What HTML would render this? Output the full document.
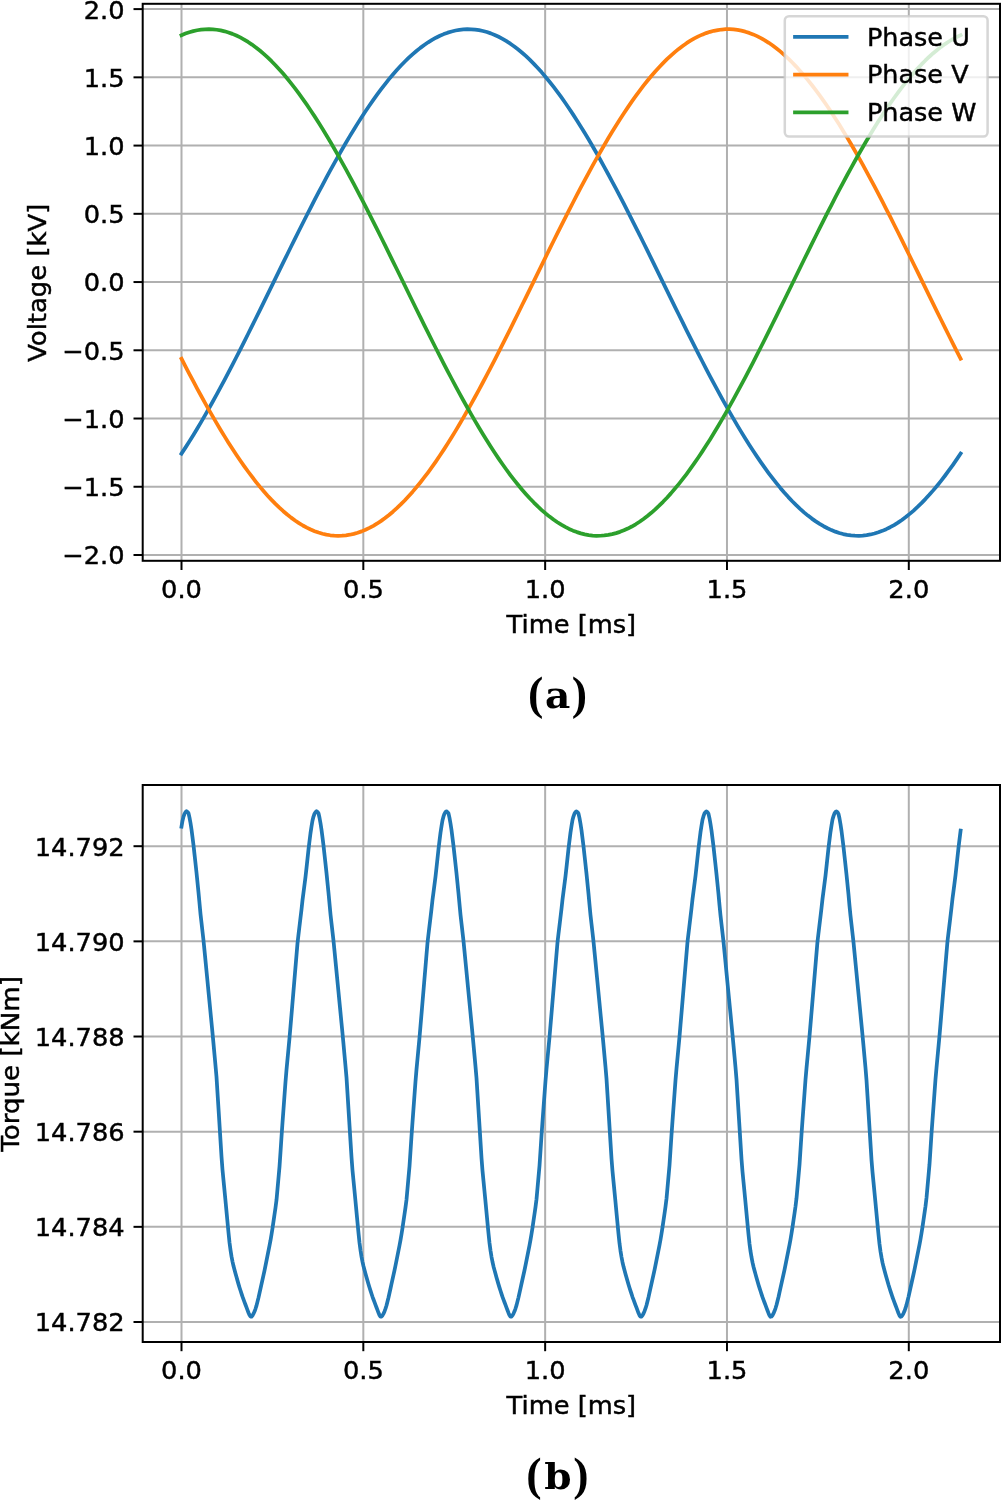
<!DOCTYPE html>
<html><head><meta charset="utf-8"><title>Phase voltages and torque</title>
<style>html,body{margin:0;padding:0;background:#fff}svg{display:block}text{font-family:"DejaVu Sans", "Liberation Sans", sans-serif;font-size:24.8px;fill:#000;stroke:#000;stroke-width:0.45px}.cap{font-weight:bold;stroke:none}.par{font-family:"Liberation Serif", "DejaVu Serif", serif;font-size:46px}.let{font-family:"DejaVu Serif","Liberation Serif",serif;font-size:35.6px}</style>
</head><body>
<svg width="1001" height="1500" viewBox="0 0 1001 1500">
<rect width="1001" height="1500" fill="#fff"/>
<defs><clipPath id="ca"><rect x="142.7" y="3.8" width="857.3" height="557.0"/></clipPath><clipPath id="cb"><rect x="142.7" y="785.0" width="857.3" height="557.0"/></clipPath></defs>
<line x1="181.5" y1="3.8" x2="181.5" y2="560.8" stroke="#b0b0b0" stroke-width="2.0"/>
<line x1="363.32" y1="3.8" x2="363.32" y2="560.8" stroke="#b0b0b0" stroke-width="2.0"/>
<line x1="545.15" y1="3.8" x2="545.15" y2="560.8" stroke="#b0b0b0" stroke-width="2.0"/>
<line x1="726.97" y1="3.8" x2="726.97" y2="560.8" stroke="#b0b0b0" stroke-width="2.0"/>
<line x1="908.8" y1="3.8" x2="908.8" y2="560.8" stroke="#b0b0b0" stroke-width="2.0"/>
<line x1="142.7" y1="9.1" x2="1000.0" y2="9.1" stroke="#b0b0b0" stroke-width="2.0"/>
<line x1="142.7" y1="77.34" x2="1000.0" y2="77.34" stroke="#b0b0b0" stroke-width="2.0"/>
<line x1="142.7" y1="145.58" x2="1000.0" y2="145.58" stroke="#b0b0b0" stroke-width="2.0"/>
<line x1="142.7" y1="213.81" x2="1000.0" y2="213.81" stroke="#b0b0b0" stroke-width="2.0"/>
<line x1="142.7" y1="282.05" x2="1000.0" y2="282.05" stroke="#b0b0b0" stroke-width="2.0"/>
<line x1="142.7" y1="350.29" x2="1000.0" y2="350.29" stroke="#b0b0b0" stroke-width="2.0"/>
<line x1="142.7" y1="418.52" x2="1000.0" y2="418.52" stroke="#b0b0b0" stroke-width="2.0"/>
<line x1="142.7" y1="486.76" x2="1000.0" y2="486.76" stroke="#b0b0b0" stroke-width="2.0"/>
<line x1="142.7" y1="555" x2="1000.0" y2="555" stroke="#b0b0b0" stroke-width="2.0"/>
<g clip-path="url(#ca)">
<path d="M181.5 453.59 L185.42 447.61 L189.33 441.47 L193.25 435.16 L197.16 428.7 L201.08 422.1 L204.99 415.36 L208.91 408.48 L212.82 401.49 L216.74 394.37 L220.65 387.14 L224.57 379.8 L228.48 372.37 L232.4 364.85 L236.31 357.25 L240.23 349.57 L244.14 341.83 L248.06 334.02 L251.97 326.17 L255.89 318.27 L259.8 310.34 L263.72 302.37 L267.63 294.39 L271.55 286.4 L275.46 278.4 L279.38 270.41 L283.29 262.43 L287.21 254.47 L291.12 246.53 L295.04 238.64 L298.96 230.78 L302.87 222.98 L306.79 215.24 L310.7 207.56 L314.62 199.96 L318.53 192.44 L322.45 185.01 L326.36 177.68 L330.28 170.45 L334.19 163.34 L338.11 156.34 L342.02 149.47 L345.94 142.73 L349.85 136.13 L353.77 129.68 L357.68 123.38 L361.6 117.24 L365.51 111.26 L369.43 105.45 L373.34 99.82 L377.26 94.38 L381.17 89.11 L385.09 84.05 L389 79.18 L392.92 74.51 L396.83 70.05 L400.75 65.8 L404.67 61.77 L408.58 57.96 L412.5 54.37 L416.41 51.01 L420.33 47.88 L424.24 44.98 L428.16 42.32 L432.07 39.9 L435.99 37.72 L439.9 35.79 L443.82 34.1 L447.73 32.66 L451.65 31.47 L455.56 30.52 L459.48 29.83 L463.39 29.4 L467.31 29.21 L471.22 29.28 L475.14 29.59 L479.05 30.17 L482.97 30.99 L486.88 32.06 L490.8 33.38 L494.71 34.95 L498.63 36.77 L502.54 38.83 L506.46 41.14 L510.37 43.69 L514.29 46.47 L518.21 49.49 L522.12 52.74 L526.04 56.22 L529.95 59.93 L533.87 63.86 L537.78 68 L541.7 72.36 L545.61 76.93 L549.53 81.71 L553.44 86.68 L557.36 91.85 L561.27 97.21 L565.19 102.76 L569.1 108.48 L573.02 114.38 L576.93 120.44 L580.85 126.67 L584.76 133.05 L588.68 139.58 L592.59 146.25 L596.51 153.06 L600.42 160 L604.34 167.06 L608.25 174.23 L612.17 181.52 L616.08 188.9 L620 196.38 L623.91 203.94 L627.83 211.58 L631.75 219.29 L635.66 227.07 L639.58 234.9 L643.49 242.78 L647.41 250.69 L651.32 258.64 L655.24 266.61 L659.15 274.6 L663.07 282.6 L666.98 290.6 L670.9 298.58 L674.81 306.56 L678.73 314.5 L682.64 322.42 L686.56 330.3 L690.47 338.13 L694.39 345.9 L698.3 353.61 L702.22 361.25 L706.13 368.81 L710.05 376.28 L713.96 383.66 L717.88 390.94 L721.79 398.12 L725.71 405.17 L729.62 412.11 L733.54 418.91 L737.46 425.58 L741.37 432.11 L745.29 438.49 L749.2 444.71 L753.12 450.77 L757.03 456.66 L760.95 462.38 L764.86 467.92 L768.78 473.28 L772.69 478.44 L776.61 483.41 L780.52 488.18 L784.44 492.75 L788.35 497.1 L792.27 501.24 L796.18 505.17 L800.1 508.87 L804.01 512.34 L807.93 515.59 L811.84 518.6 L815.76 521.38 L819.67 523.92 L823.59 526.22 L827.5 528.28 L831.42 530.09 L835.33 531.65 L839.25 532.97 L843.16 534.04 L847.08 534.85 L851 535.42 L854.91 535.73 L858.83 535.79 L862.74 535.6 L866.66 535.15 L870.57 534.45 L874.49 533.51 L878.4 532.31 L882.32 530.86 L886.23 529.17 L890.15 527.23 L894.06 525.04 L897.98 522.62 L901.89 519.95 L905.81 517.05 L909.72 513.91 L913.64 510.55 L917.55 506.95 L921.47 503.13 L925.38 499.1 L929.3 494.84 L933.21 490.38 L937.13 485.7 L941.04 480.83 L944.96 475.76 L948.87 470.49 L952.79 465.04 L956.7 459.4 L960.62 453.59" fill="none" stroke="#1f77b4" stroke-width="3.75" stroke-linecap="square" stroke-linejoin="round"/>
<path d="M181.5 358.71 L185.42 366.3 L189.33 373.8 L193.25 381.22 L197.16 388.53 L201.08 395.74 L204.99 402.84 L208.91 409.81 L212.82 416.66 L216.74 423.38 L220.65 429.95 L224.57 436.38 L228.48 442.65 L232.4 448.77 L236.31 454.72 L240.23 460.5 L244.14 466.1 L248.06 471.51 L251.97 476.74 L255.89 481.78 L259.8 486.62 L263.72 491.25 L267.63 495.67 L271.55 499.89 L275.46 503.88 L279.38 507.66 L283.29 511.21 L287.21 514.53 L291.12 517.62 L295.04 520.48 L298.96 523.1 L302.87 525.48 L306.79 527.62 L310.7 529.51 L314.62 531.16 L318.53 532.56 L322.45 533.71 L326.36 534.61 L330.28 535.26 L334.19 535.65 L338.11 535.8 L342.02 535.69 L345.94 535.33 L349.85 534.72 L353.77 533.85 L357.68 532.74 L361.6 531.37 L365.51 529.76 L369.43 527.9 L373.34 525.8 L377.26 523.45 L381.17 520.87 L385.09 518.04 L389 514.98 L392.92 511.69 L396.83 508.17 L400.75 504.43 L404.67 500.47 L408.58 496.28 L412.5 491.89 L416.41 487.29 L420.33 482.48 L424.24 477.47 L428.16 472.27 L432.07 466.88 L435.99 461.3 L439.9 455.55 L443.82 449.62 L447.73 443.53 L451.65 437.28 L455.56 430.87 L459.48 424.32 L463.39 417.62 L467.31 410.79 L471.22 403.83 L475.14 396.75 L479.05 389.56 L482.97 382.26 L486.88 374.86 L490.8 367.37 L494.71 359.79 L498.63 352.14 L502.54 344.41 L506.46 336.63 L510.37 328.79 L514.29 320.91 L518.21 312.98 L522.12 305.03 L526.04 297.05 L529.95 289.06 L533.87 281.07 L537.78 273.07 L541.7 265.09 L545.61 257.12 L549.53 249.17 L553.44 241.26 L557.36 233.4 L561.27 225.58 L565.19 217.81 L569.1 210.11 L573.02 202.49 L576.93 194.94 L580.85 187.48 L584.76 180.11 L588.68 172.85 L592.59 165.7 L596.51 158.66 L600.42 151.75 L604.34 144.96 L608.25 138.32 L612.17 131.82 L616.08 125.46 L620 119.27 L623.91 113.23 L627.83 107.37 L631.75 101.68 L635.66 96.17 L639.58 90.85 L643.49 85.71 L647.41 80.78 L651.32 76.04 L655.24 71.51 L659.15 67.19 L663.07 63.09 L666.98 59.2 L670.9 55.54 L674.81 52.1 L678.73 48.89 L682.64 45.92 L686.56 43.18 L690.47 40.68 L694.39 38.42 L698.3 36.4 L702.22 34.63 L706.13 33.11 L710.05 31.84 L713.96 30.81 L717.88 30.04 L721.79 29.51 L725.71 29.24 L729.62 29.23 L733.54 29.46 L737.46 29.95 L741.37 30.69 L745.29 31.68 L749.2 32.91 L753.12 34.4 L757.03 36.14 L760.95 38.12 L764.86 40.34 L768.78 42.81 L772.69 45.52 L776.61 48.46 L780.52 51.63 L784.44 55.04 L788.35 58.67 L792.27 62.52 L796.18 66.6 L800.1 70.89 L804.01 75.39 L807.93 80.09 L811.84 85 L815.76 90.11 L819.67 95.4 L823.59 100.89 L827.5 106.55 L831.42 112.39 L835.33 118.4 L839.25 124.57 L843.16 130.91 L847.08 137.39 L851 144.01 L854.91 150.78 L858.83 157.67 L862.74 164.69 L866.66 171.83 L870.57 179.08 L874.49 186.43 L878.4 193.88 L882.32 201.41 L886.23 209.03 L890.15 216.72 L894.06 224.47 L897.98 232.28 L901.89 240.15 L905.81 248.05 L909.72 255.99 L913.64 263.96 L917.55 271.94 L921.47 279.93 L925.38 287.93 L929.3 295.92 L933.21 303.9 L937.13 311.86 L941.04 319.79 L944.96 327.68 L948.87 335.52 L952.79 343.31 L956.7 351.05 L960.62 358.71" fill="none" stroke="#ff7f0e" stroke-width="3.75" stroke-linecap="square" stroke-linejoin="round"/>
<path d="M181.5 35.2 L185.42 33.59 L189.33 32.23 L193.25 31.12 L197.16 30.27 L201.08 29.66 L204.99 29.31 L208.91 29.2 L212.82 29.35 L216.74 29.76 L220.65 30.41 L224.57 31.32 L228.48 32.47 L232.4 33.88 L236.31 35.53 L240.23 37.43 L244.14 39.58 L248.06 41.96 L251.97 44.59 L255.89 47.45 L259.8 50.55 L263.72 53.88 L267.63 57.43 L271.55 61.21 L275.46 65.22 L279.38 69.43 L283.29 73.86 L287.21 78.5 L291.12 83.34 L295.04 88.38 L298.96 93.62 L302.87 99.04 L306.79 104.64 L310.7 110.43 L314.62 116.38 L318.53 122.5 L322.45 128.78 L326.36 135.21 L330.28 141.79 L334.19 148.51 L338.11 155.36 L342.02 162.34 L345.94 169.44 L349.85 176.65 L353.77 183.97 L357.68 191.38 L361.6 198.89 L365.51 206.48 L369.43 214.15 L373.34 221.88 L377.26 229.67 L381.17 237.52 L385.09 245.41 L389 253.34 L392.92 261.3 L396.83 269.28 L400.75 277.27 L404.67 285.27 L408.58 293.26 L412.5 301.24 L416.41 309.21 L420.33 317.15 L424.24 325.05 L428.16 332.91 L432.07 340.72 L435.99 348.48 L439.9 356.16 L443.82 363.78 L447.73 371.31 L451.65 378.75 L455.56 386.1 L459.48 393.35 L463.39 400.48 L467.31 407.5 L471.22 414.39 L475.14 421.15 L479.05 427.78 L482.97 434.25 L486.88 440.58 L490.8 446.75 L494.71 452.76 L498.63 458.59 L502.54 464.25 L506.46 469.73 L510.37 475.02 L514.29 480.12 L518.21 485.03 L522.12 489.73 L526.04 494.22 L529.95 498.51 L533.87 502.57 L537.78 506.42 L541.7 510.05 L545.61 513.45 L549.53 516.62 L553.44 519.55 L557.36 522.25 L561.27 524.71 L565.19 526.93 L569.1 528.91 L573.02 530.64 L576.93 532.12 L580.85 533.35 L584.76 534.34 L588.68 535.07 L592.59 535.55 L596.51 535.78 L600.42 535.75 L604.34 535.48 L608.25 534.95 L612.17 534.17 L616.08 533.14 L620 531.85 L623.91 530.32 L627.83 528.55 L631.75 526.53 L635.66 524.26 L639.58 521.75 L643.49 519.01 L647.41 516.03 L651.32 512.82 L655.24 509.37 L659.15 505.7 L663.07 501.81 L666.98 497.7 L670.9 493.38 L674.81 488.84 L678.73 484.1 L682.64 479.16 L686.56 474.02 L690.47 468.69 L694.39 463.18 L698.3 457.49 L702.22 451.62 L706.13 445.58 L710.05 439.38 L713.96 433.02 L717.88 426.52 L721.79 419.87 L725.71 413.08 L729.62 406.17 L733.54 399.13 L737.46 391.97 L741.37 384.7 L745.29 377.34 L749.2 369.87 L753.12 362.33 L757.03 354.7 L760.95 347 L764.86 339.23 L768.78 331.41 L772.69 323.54 L776.61 315.63 L780.52 307.68 L784.44 299.72 L788.35 291.73 L792.27 283.73 L796.18 275.74 L800.1 267.75 L804.01 259.77 L807.93 251.82 L811.84 243.9 L815.76 236.01 L819.67 228.18 L823.59 220.39 L827.5 212.67 L831.42 205.02 L835.33 197.45 L839.25 189.96 L843.16 182.56 L847.08 175.26 L851 168.07 L854.91 160.99 L858.83 154.04 L862.74 147.21 L866.66 140.52 L870.57 133.97 L874.49 127.56 L878.4 121.31 L882.32 115.23 L886.23 109.31 L890.15 103.56 L894.06 97.99 L897.98 92.6 L901.89 87.4 L905.81 82.4 L909.72 77.6 L913.64 73 L917.55 68.61 L921.47 64.43 L925.38 60.47 L929.3 56.73 L933.21 53.22 L937.13 49.94 L941.04 46.88 L944.96 44.07 L948.87 41.49 L952.79 39.15 L956.7 37.05 L960.62 35.2" fill="none" stroke="#2ca02c" stroke-width="3.75" stroke-linecap="square" stroke-linejoin="round"/>
</g>
<line x1="181.5" y1="560.8" x2="181.5" y2="570.0" stroke="#000" stroke-width="2.0"/>
<line x1="363.32" y1="560.8" x2="363.32" y2="570.0" stroke="#000" stroke-width="2.0"/>
<line x1="545.15" y1="560.8" x2="545.15" y2="570.0" stroke="#000" stroke-width="2.0"/>
<line x1="726.97" y1="560.8" x2="726.97" y2="570.0" stroke="#000" stroke-width="2.0"/>
<line x1="908.8" y1="560.8" x2="908.8" y2="570.0" stroke="#000" stroke-width="2.0"/>
<line x1="133.5" y1="9.1" x2="142.7" y2="9.1" stroke="#000" stroke-width="2.0"/>
<line x1="133.5" y1="77.34" x2="142.7" y2="77.34" stroke="#000" stroke-width="2.0"/>
<line x1="133.5" y1="145.58" x2="142.7" y2="145.58" stroke="#000" stroke-width="2.0"/>
<line x1="133.5" y1="213.81" x2="142.7" y2="213.81" stroke="#000" stroke-width="2.0"/>
<line x1="133.5" y1="282.05" x2="142.7" y2="282.05" stroke="#000" stroke-width="2.0"/>
<line x1="133.5" y1="350.29" x2="142.7" y2="350.29" stroke="#000" stroke-width="2.0"/>
<line x1="133.5" y1="418.52" x2="142.7" y2="418.52" stroke="#000" stroke-width="2.0"/>
<line x1="133.5" y1="486.76" x2="142.7" y2="486.76" stroke="#000" stroke-width="2.0"/>
<line x1="133.5" y1="555" x2="142.7" y2="555" stroke="#000" stroke-width="2.0"/>
<rect x="142.7" y="3.8" width="857.3" height="557.0" fill="none" stroke="#000" stroke-width="2.0"/>
<text transform="translate(181.5,598.1) scale(1.036,1)" text-anchor="middle">0.0</text>
<text transform="translate(363.32,598.1) scale(1.036,1)" text-anchor="middle">0.5</text>
<text transform="translate(545.15,598.1) scale(1.036,1)" text-anchor="middle">1.0</text>
<text transform="translate(726.97,598.1) scale(1.036,1)" text-anchor="middle">1.5</text>
<text transform="translate(908.8,598.1) scale(1.036,1)" text-anchor="middle">2.0</text>
<text transform="translate(124.6,18.5) scale(1.036,1)" text-anchor="end">2.0</text>
<text transform="translate(124.6,86.74) scale(1.036,1)" text-anchor="end">1.5</text>
<text transform="translate(124.6,154.98) scale(1.036,1)" text-anchor="end">1.0</text>
<text transform="translate(124.6,223.21) scale(1.036,1)" text-anchor="end">0.5</text>
<text transform="translate(124.6,291.45) scale(1.036,1)" text-anchor="end">0.0</text>
<text transform="translate(124.6,359.69) scale(1.036,1)" text-anchor="end">−0.5</text>
<text transform="translate(124.6,427.92) scale(1.036,1)" text-anchor="end">−1.0</text>
<text transform="translate(124.6,496.16) scale(1.036,1)" text-anchor="end">−1.5</text>
<text transform="translate(124.6,564.4) scale(1.036,1)" text-anchor="end">−2.0</text>
<rect x="784.8" y="16.2" width="202.8" height="120.3" rx="4.2" ry="4.2" fill="#fff" fill-opacity="0.8" stroke="#ccc" stroke-opacity="0.8" stroke-width="2.5"/>
<line x1="795" y1="36.9" x2="846.6" y2="36.9" stroke="#1f77b4" stroke-width="3.75" stroke-linecap="square"/>
<text transform="translate(867,45.6) scale(1.0277,1)" text-anchor="start">Phase U</text>
<line x1="795" y1="74.6" x2="846.6" y2="74.6" stroke="#ff7f0e" stroke-width="3.75" stroke-linecap="square"/>
<text transform="translate(867,83.3) scale(1.0277,1)" text-anchor="start">Phase V</text>
<line x1="795" y1="112.3" x2="846.6" y2="112.3" stroke="#2ca02c" stroke-width="3.75" stroke-linecap="square"/>
<text transform="translate(867,121) scale(1.0277,1)" text-anchor="start">Phase W</text>
<text transform="translate(571.35,632.7) scale(1.036,1)" text-anchor="middle">Time [ms]</text>
<text transform="translate(46.3,282.8) rotate(-90) scale(1.0433,1)" text-anchor="middle">Voltage [kV]</text>
<text class="cap" y="708"><tspan class="par" x="528.1" dy="1">(</tspan><tspan class="let" x="544.9" dy="-1" textLength="25.37" lengthAdjust="spacingAndGlyphs">a</tspan><tspan class="par" x="571.8" dy="1">)</tspan></text>
<line x1="181.5" y1="785.0" x2="181.5" y2="1342.0" stroke="#b0b0b0" stroke-width="2.0"/>
<line x1="363.32" y1="785.0" x2="363.32" y2="1342.0" stroke="#b0b0b0" stroke-width="2.0"/>
<line x1="545.15" y1="785.0" x2="545.15" y2="1342.0" stroke="#b0b0b0" stroke-width="2.0"/>
<line x1="726.97" y1="785.0" x2="726.97" y2="1342.0" stroke="#b0b0b0" stroke-width="2.0"/>
<line x1="908.8" y1="785.0" x2="908.8" y2="1342.0" stroke="#b0b0b0" stroke-width="2.0"/>
<line x1="142.7" y1="846.2" x2="1000.0" y2="846.2" stroke="#b0b0b0" stroke-width="2.0"/>
<line x1="142.7" y1="941.36" x2="1000.0" y2="941.36" stroke="#b0b0b0" stroke-width="2.0"/>
<line x1="142.7" y1="1036.52" x2="1000.0" y2="1036.52" stroke="#b0b0b0" stroke-width="2.0"/>
<line x1="142.7" y1="1131.68" x2="1000.0" y2="1131.68" stroke="#b0b0b0" stroke-width="2.0"/>
<line x1="142.7" y1="1226.84" x2="1000.0" y2="1226.84" stroke="#b0b0b0" stroke-width="2.0"/>
<line x1="142.7" y1="1322" x2="1000.0" y2="1322" stroke="#b0b0b0" stroke-width="2.0"/>
<g clip-path="url(#cb)">
<path d="M181.5 826.68 L182.5 820.68 L183.5 816.66 L184.5 813.86 L185.5 812.16 L186.5 811.25 L187.5 812.05 L188.5 813.07 L189.5 817.57 L190.5 822.99 L191.5 829.49 L192.5 837.28 L193.5 845.28 L194.5 854.26 L195.5 863.41 L196.5 872.6 L197.5 882.56 L198.5 892.53 L199.5 903.18 L200.5 914.04 L201.5 922.82 L202.5 931.59 L203.5 940.37 L204.5 950.47 L205.5 960.79 L206.5 971.1 L207.5 981.42 L208.5 991.73 L209.5 1002.05 L210.5 1012.37 L211.5 1022.68 L212.5 1032.99 L213.5 1043.72 L214.5 1054.67 L215.5 1065.61 L216.5 1076.86 L217.5 1092.8 L218.5 1108.74 L219.5 1124.69 L220.5 1140.63 L221.5 1156.59 L222.5 1169.93 L223.5 1180.22 L224.5 1190.51 L225.5 1200.92 L226.5 1211.53 L227.5 1222.15 L228.5 1232.6 L229.5 1242.45 L230.5 1249.95 L231.5 1256.39 L232.5 1261.59 L233.5 1266.11 L234.5 1269.82 L235.5 1273.54 L236.5 1277.11 L237.5 1280.61 L238.5 1284.11 L239.5 1287.42 L240.5 1290.5 L241.5 1293.59 L242.5 1296.67 L243.5 1299.39 L244.5 1302.06 L245.5 1304.73 L246.5 1307.39 L247.5 1310.06 L248.5 1312.73 L249.5 1315.05 L250.5 1316.57 L251.5 1316.62 L252.5 1315.51 L253.5 1313.71 L254.5 1311.57 L255.5 1308.77 L256.5 1305.66 L257.5 1301.66 L258.5 1297.66 L259.5 1293.2 L260.5 1288.66 L261.5 1284.13 L262.5 1279.63 L263.5 1275.13 L264.5 1270.63 L265.5 1265.7 L266.5 1260.7 L267.5 1255.7 L268.5 1250.7 L269.5 1245.7 L270.5 1240.44 L271.5 1234.44 L272.5 1228.22 L273.5 1221.36 L274.5 1214.51 L275.5 1207.66 L276.5 1200.12 L277.5 1189 L278.5 1177.88 L279.5 1166.76 L280.5 1152.07 L281.5 1136.79 L282.5 1122.63 L283.5 1109.05 L284.5 1095.46 L285.5 1081.88 L286.5 1069.94 L287.5 1059.29 L288.5 1048.64 L289.5 1037.99 L290.5 1026.36 L291.5 1014.54 L292.5 1002.66 L293.5 990.78 L294.5 978.9 L295.5 967.02 L296.5 955.14 L297.5 943.26 L298.5 934.45 L299.5 926.13 L300.5 917.82 L301.5 909.45 L302.5 900.27 L303.5 892.47 L304.5 884.73 L305.5 876.98 L306.5 867.97 L307.5 858.75 L308.5 849.53 L309.5 841.12 L310.5 833.12 L311.5 826.44 L312.5 820.44 L313.5 816.55 L314.5 813.75 L315.5 812.12 L316.5 811.28 L317.5 812.08 L318.5 813.25 L319.5 817.75 L320.5 823.25 L321.5 829.75 L322.5 837.6 L323.5 845.6 L324.5 854.63 L325.5 863.77 L326.5 873 L327.5 882.96 L328.5 892.92 L329.5 903.69 L330.5 914.39 L331.5 923.17 L332.5 931.94 L333.5 940.72 L334.5 950.88 L335.5 961.2 L336.5 971.52 L337.5 981.83 L338.5 992.15 L339.5 1002.46 L340.5 1012.78 L341.5 1023.09 L342.5 1033.41 L343.5 1044.16 L344.5 1055.11 L345.5 1066.05 L346.5 1077.49 L347.5 1093.44 L348.5 1109.38 L349.5 1125.32 L350.5 1141.27 L351.5 1157.22 L352.5 1170.35 L353.5 1180.64 L354.5 1190.93 L355.5 1201.35 L356.5 1211.96 L357.5 1222.57 L358.5 1233 L359.5 1242.75 L360.5 1250.25 L361.5 1256.6 L362.5 1261.8 L363.5 1266.26 L364.5 1269.97 L365.5 1273.69 L366.5 1277.25 L367.5 1280.75 L368.5 1284.25 L369.5 1287.54 L370.5 1290.62 L371.5 1293.71 L372.5 1296.79 L373.5 1299.5 L374.5 1302.17 L375.5 1304.83 L376.5 1307.5 L377.5 1310.17 L378.5 1312.83 L379.5 1315.15 L380.5 1316.62 L381.5 1316.59 L382.5 1315.44 L383.5 1313.64 L384.5 1311.46 L385.5 1308.66 L386.5 1305.5 L387.5 1301.5 L388.5 1297.5 L389.5 1293.02 L390.5 1288.48 L391.5 1283.95 L392.5 1279.45 L393.5 1274.95 L394.5 1270.45 L395.5 1265.5 L396.5 1260.5 L397.5 1255.5 L398.5 1250.5 L399.5 1245.5 L400.5 1240.2 L401.5 1234.2 L402.5 1227.94 L403.5 1221.09 L404.5 1214.24 L405.5 1207.38 L406.5 1199.68 L407.5 1188.55 L408.5 1177.43 L409.5 1166.31 L410.5 1151.45 L411.5 1136.18 L412.5 1122.09 L413.5 1108.5 L414.5 1094.92 L415.5 1081.33 L416.5 1069.51 L417.5 1058.86 L418.5 1048.21 L419.5 1037.56 L420.5 1025.89 L421.5 1014.06 L422.5 1002.18 L423.5 990.3 L424.5 978.42 L425.5 966.55 L426.5 954.67 L427.5 942.79 L428.5 934.12 L429.5 925.8 L430.5 917.48 L431.5 909.08 L432.5 899.9 L433.5 892.16 L434.5 884.42 L435.5 876.67 L436.5 867.6 L437.5 858.38 L438.5 849.17 L439.5 840.8 L440.5 832.8 L441.5 826.2 L442.5 820.2 L443.5 816.44 L444.5 813.64 L445.5 812.08 L446.5 811.31 L447.5 812.11 L448.5 813.43 L449.5 817.93 L450.5 823.51 L451.5 830.01 L452.5 837.92 L453.5 845.92 L454.5 854.99 L455.5 864.14 L456.5 873.39 L457.5 883.36 L458.5 893.32 L459.5 904.19 L460.5 914.74 L461.5 923.52 L462.5 932.3 L463.5 941.07 L464.5 951.3 L465.5 961.61 L466.5 971.93 L467.5 982.24 L468.5 992.56 L469.5 1002.88 L470.5 1013.19 L471.5 1023.51 L472.5 1033.82 L473.5 1044.6 L474.5 1055.54 L475.5 1066.49 L476.5 1078.13 L477.5 1094.07 L478.5 1110.02 L479.5 1125.96 L480.5 1141.91 L481.5 1157.86 L482.5 1170.76 L483.5 1181.05 L484.5 1191.34 L485.5 1201.77 L486.5 1212.38 L487.5 1223 L488.5 1233.4 L489.5 1243.05 L490.5 1250.55 L491.5 1256.81 L492.5 1262.01 L493.5 1266.41 L494.5 1270.12 L495.5 1273.83 L496.5 1277.39 L497.5 1280.89 L498.5 1284.39 L499.5 1287.66 L500.5 1290.75 L501.5 1293.83 L502.5 1296.91 L503.5 1299.61 L504.5 1302.27 L505.5 1304.94 L506.5 1307.61 L507.5 1310.27 L508.5 1312.94 L509.5 1315.24 L510.5 1316.67 L511.5 1316.57 L512.5 1315.37 L513.5 1313.56 L514.5 1311.35 L515.5 1308.55 L516.5 1305.34 L517.5 1301.34 L518.5 1297.34 L519.5 1292.84 L520.5 1288.3 L521.5 1283.77 L522.5 1279.27 L523.5 1274.77 L524.5 1270.27 L525.5 1265.3 L526.5 1260.3 L527.5 1255.3 L528.5 1250.3 L529.5 1245.3 L530.5 1239.96 L531.5 1233.96 L532.5 1227.67 L533.5 1220.82 L534.5 1213.96 L535.5 1207.11 L536.5 1199.23 L537.5 1188.11 L538.5 1176.99 L539.5 1165.87 L540.5 1150.84 L541.5 1135.57 L542.5 1121.55 L543.5 1107.96 L544.5 1094.38 L545.5 1080.79 L546.5 1069.08 L547.5 1058.44 L548.5 1047.79 L549.5 1037.14 L550.5 1025.42 L551.5 1013.59 L552.5 1001.71 L553.5 989.83 L554.5 977.95 L555.5 966.07 L556.5 954.19 L557.5 942.31 L558.5 933.78 L559.5 925.47 L560.5 917.15 L561.5 908.71 L562.5 899.59 L563.5 891.85 L564.5 884.11 L565.5 876.36 L566.5 867.23 L567.5 858.02 L568.5 848.8 L569.5 840.48 L570.5 832.48 L571.5 825.96 L572.5 819.96 L573.5 816.33 L574.5 813.53 L575.5 812.04 L576.5 811.34 L577.5 812.14 L578.5 813.61 L579.5 818.11 L580.5 823.77 L581.5 830.27 L582.5 838.24 L583.5 846.24 L584.5 855.36 L585.5 864.5 L586.5 873.79 L587.5 883.76 L588.5 893.72 L589.5 904.7 L590.5 915.09 L591.5 923.87 L592.5 932.65 L593.5 941.42 L594.5 951.71 L595.5 962.03 L596.5 972.34 L597.5 982.66 L598.5 992.97 L599.5 1003.29 L600.5 1013.6 L601.5 1023.92 L602.5 1034.23 L603.5 1045.04 L604.5 1055.98 L605.5 1066.93 L606.5 1078.77 L607.5 1094.71 L608.5 1110.66 L609.5 1126.6 L610.5 1142.55 L611.5 1158.5 L612.5 1171.17 L613.5 1181.46 L614.5 1191.75 L615.5 1202.19 L616.5 1212.81 L617.5 1223.42 L618.5 1233.8 L619.5 1243.35 L620.5 1250.85 L621.5 1257.02 L622.5 1262.22 L623.5 1266.55 L624.5 1270.27 L625.5 1273.98 L626.5 1277.53 L627.5 1281.03 L628.5 1284.53 L629.5 1287.79 L630.5 1290.87 L631.5 1293.95 L632.5 1297.04 L633.5 1299.71 L634.5 1302.38 L635.5 1305.05 L636.5 1307.71 L637.5 1310.38 L638.5 1313.05 L639.5 1315.33 L640.5 1316.72 L641.5 1316.55 L642.5 1315.3 L643.5 1313.48 L644.5 1311.24 L645.5 1308.44 L646.5 1305.18 L647.5 1301.18 L648.5 1297.18 L649.5 1292.65 L650.5 1288.12 L651.5 1283.59 L652.5 1279.09 L653.5 1274.59 L654.5 1270.09 L655.5 1265.1 L656.5 1260.1 L657.5 1255.1 L658.5 1250.1 L659.5 1245.1 L660.5 1239.72 L661.5 1233.72 L662.5 1227.4 L663.5 1220.54 L664.5 1213.69 L665.5 1206.83 L666.5 1198.79 L667.5 1187.66 L668.5 1176.54 L669.5 1165.42 L670.5 1150.23 L671.5 1134.96 L672.5 1121 L673.5 1107.42 L674.5 1093.83 L675.5 1080.25 L676.5 1068.66 L677.5 1058.01 L678.5 1047.36 L679.5 1036.71 L680.5 1024.95 L681.5 1013.11 L682.5 1001.23 L683.5 989.35 L684.5 977.47 L685.5 965.6 L686.5 953.72 L687.5 941.84 L688.5 933.45 L689.5 925.13 L690.5 916.82 L691.5 908.35 L692.5 899.28 L693.5 891.54 L694.5 883.8 L695.5 876.05 L696.5 866.87 L697.5 857.65 L698.5 848.43 L699.5 840.16 L700.5 832.16 L701.5 825.72 L702.5 819.72 L703.5 816.22 L704.5 813.42 L705.5 812 L706.5 811.38 L707.5 812.18 L708.5 813.79 L709.5 818.29 L710.5 824.03 L711.5 830.56 L712.5 838.56 L713.5 846.58 L714.5 855.73 L715.5 864.87 L716.5 874.19 L717.5 884.16 L718.5 894.12 L719.5 905.2 L720.5 915.44 L721.5 924.22 L722.5 933 L723.5 941.81 L724.5 952.12 L725.5 962.44 L726.5 972.75 L727.5 983.07 L728.5 993.39 L729.5 1003.7 L730.5 1014.02 L731.5 1024.33 L732.5 1034.64 L733.5 1045.47 L734.5 1056.42 L735.5 1067.36 L736.5 1079.41 L737.5 1095.35 L738.5 1111.29 L739.5 1127.24 L740.5 1143.19 L741.5 1159.14 L742.5 1171.58 L743.5 1181.87 L744.5 1192.16 L745.5 1202.62 L746.5 1213.23 L747.5 1223.84 L748.5 1234.2 L749.5 1243.65 L750.5 1251.15 L751.5 1257.22 L752.5 1262.42 L753.5 1266.7 L754.5 1270.42 L755.5 1274.13 L756.5 1277.67 L757.5 1281.17 L758.5 1284.67 L759.5 1287.91 L760.5 1290.99 L761.5 1294.08 L762.5 1297.15 L763.5 1299.82 L764.5 1302.49 L765.5 1305.15 L766.5 1307.82 L767.5 1310.49 L768.5 1313.15 L769.5 1315.42 L770.5 1316.77 L771.5 1316.52 L772.5 1315.23 L773.5 1313.41 L774.5 1311.12 L775.5 1308.32 L776.5 1305.02 L777.5 1301.02 L778.5 1297.01 L779.5 1292.47 L780.5 1287.94 L781.5 1283.41 L782.5 1278.91 L783.5 1274.41 L784.5 1269.9 L785.5 1264.9 L786.5 1259.9 L787.5 1254.9 L788.5 1249.9 L789.5 1244.9 L790.5 1239.48 L791.5 1233.48 L792.5 1227.12 L793.5 1220.27 L794.5 1213.41 L795.5 1206.56 L796.5 1198.34 L797.5 1187.22 L798.5 1176.1 L799.5 1164.89 L800.5 1149.62 L801.5 1134.35 L802.5 1120.46 L803.5 1106.87 L804.5 1093.29 L805.5 1079.7 L806.5 1068.23 L807.5 1057.58 L808.5 1046.94 L809.5 1036.26 L810.5 1024.48 L811.5 1012.64 L812.5 1000.76 L813.5 988.88 L814.5 977 L815.5 965.12 L816.5 953.24 L817.5 941.43 L818.5 933.12 L819.5 924.8 L820.5 916.49 L821.5 907.98 L822.5 898.97 L823.5 891.23 L824.5 883.49 L825.5 875.72 L826.5 866.5 L827.5 857.28 L828.5 848.06 L829.5 839.84 L830.5 831.84 L831.5 825.48 L832.5 819.48 L833.5 816.1 L834.5 813.3 L835.5 811.96 L836.5 811.41 L837.5 812.21 L838.5 813.97 L839.5 818.47 L840.5 824.29 L841.5 830.88 L842.5 838.88 L843.5 846.95 L844.5 856.09 L845.5 865.23 L846.5 874.59 L847.5 884.55 L848.5 894.52 L849.5 905.71 L850.5 915.79 L851.5 924.57 L852.5 933.35 L853.5 942.22 L854.5 952.53 L855.5 962.85 L856.5 973.17 L857.5 983.48 L858.5 993.8 L859.5 1004.11 L860.5 1014.43 L861.5 1024.74 L862.5 1035.06 L863.5 1045.91 L864.5 1056.86 L865.5 1067.8 L866.5 1080.05 L867.5 1095.99 L868.5 1111.93 L869.5 1127.87 L870.5 1143.82 L871.5 1159.78 L872.5 1171.99 L873.5 1182.28 L874.5 1192.57 L875.5 1203.04 L876.5 1213.66 L877.5 1224.27 L878.5 1234.6 L879.5 1243.95 L880.5 1251.45 L881.5 1257.43 L882.5 1262.63 L883.5 1266.85 L884.5 1270.57 L885.5 1274.28 L886.5 1277.81 L887.5 1281.31 L888.5 1284.81 L889.5 1288.03 L890.5 1291.12 L891.5 1294.2 L892.5 1297.26 L893.5 1299.93 L894.5 1302.59 L895.5 1305.26 L896.5 1307.93 L897.5 1310.59 L898.5 1313.24 L899.5 1315.51 L900.5 1316.82 L901.5 1316.5 L902.5 1315.16 L903.5 1313.33 L904.5 1311.01 L905.5 1308.21 L906.5 1304.86 L907.5 1300.86 L908.5 1296.83 L909.5 1292.29 L910.5 1287.76 L911.5 1283.23 L912.5 1278.73 L913.5 1274.23 L914.5 1269.7 L915.5 1264.7 L916.5 1259.7 L917.5 1254.7 L918.5 1249.7 L919.5 1244.7 L920.5 1239.24 L921.5 1233.24 L922.5 1226.85 L923.5 1219.99 L924.5 1213.14 L925.5 1206.29 L926.5 1197.9 L927.5 1186.78 L928.5 1175.65 L929.5 1164.28 L930.5 1149.01 L931.5 1133.74 L932.5 1119.92 L933.5 1106.33 L934.5 1092.75 L935.5 1079.16 L936.5 1067.81 L937.5 1057.16 L938.5 1046.51 L939.5 1035.79 L940.5 1024.01 L941.5 1012.16 L942.5 1000.28 L943.5 988.4 L944.5 976.52 L945.5 964.64 L946.5 952.77 L947.5 941.1 L948.5 932.79 L949.5 924.47 L950.5 916.15 L951.5 907.61 L952.5 898.66 L953.5 890.92 L954.5 883.18 L955.5 875.35 L956.5 866.13 L957.5 856.91 L958.5 847.69 L959.5 839.52 L960.5 831.52 L960.62 830.56" fill="none" stroke="#1f77b4" stroke-width="3.75" stroke-linecap="square" stroke-linejoin="round"/>
</g>
<line x1="181.5" y1="1342.0" x2="181.5" y2="1351.2" stroke="#000" stroke-width="2.0"/>
<line x1="363.32" y1="1342.0" x2="363.32" y2="1351.2" stroke="#000" stroke-width="2.0"/>
<line x1="545.15" y1="1342.0" x2="545.15" y2="1351.2" stroke="#000" stroke-width="2.0"/>
<line x1="726.97" y1="1342.0" x2="726.97" y2="1351.2" stroke="#000" stroke-width="2.0"/>
<line x1="908.8" y1="1342.0" x2="908.8" y2="1351.2" stroke="#000" stroke-width="2.0"/>
<line x1="133.5" y1="846.2" x2="142.7" y2="846.2" stroke="#000" stroke-width="2.0"/>
<line x1="133.5" y1="941.36" x2="142.7" y2="941.36" stroke="#000" stroke-width="2.0"/>
<line x1="133.5" y1="1036.52" x2="142.7" y2="1036.52" stroke="#000" stroke-width="2.0"/>
<line x1="133.5" y1="1131.68" x2="142.7" y2="1131.68" stroke="#000" stroke-width="2.0"/>
<line x1="133.5" y1="1226.84" x2="142.7" y2="1226.84" stroke="#000" stroke-width="2.0"/>
<line x1="133.5" y1="1322" x2="142.7" y2="1322" stroke="#000" stroke-width="2.0"/>
<rect x="142.7" y="785.0" width="857.3" height="557.0" fill="none" stroke="#000" stroke-width="2.0"/>
<text transform="translate(181.5,1379.3) scale(1.036,1)" text-anchor="middle">0.0</text>
<text transform="translate(363.32,1379.3) scale(1.036,1)" text-anchor="middle">0.5</text>
<text transform="translate(545.15,1379.3) scale(1.036,1)" text-anchor="middle">1.0</text>
<text transform="translate(726.97,1379.3) scale(1.036,1)" text-anchor="middle">1.5</text>
<text transform="translate(908.8,1379.3) scale(1.036,1)" text-anchor="middle">2.0</text>
<text transform="translate(124.6,855.6) scale(1.036,1)" text-anchor="end">14.792</text>
<text transform="translate(124.6,950.76) scale(1.036,1)" text-anchor="end">14.790</text>
<text transform="translate(124.6,1045.92) scale(1.036,1)" text-anchor="end">14.788</text>
<text transform="translate(124.6,1141.08) scale(1.036,1)" text-anchor="end">14.786</text>
<text transform="translate(124.6,1236.24) scale(1.036,1)" text-anchor="end">14.784</text>
<text transform="translate(124.6,1331.4) scale(1.036,1)" text-anchor="end">14.782</text>
<text transform="translate(571.35,1413.9) scale(1.036,1)" text-anchor="middle">Time [ms]</text>
<text transform="translate(18.8,1064) rotate(-90) scale(1.0526,1)" text-anchor="middle">Torque [kNm]</text>
<text class="cap" y="1489.2"><tspan class="par" x="526.3" dy="1">(</tspan><tspan class="let" x="544.3" dy="-1" textLength="27.38" lengthAdjust="spacingAndGlyphs">b</tspan><tspan class="par" x="573.3" dy="1">)</tspan></text>
</svg></body></html>
